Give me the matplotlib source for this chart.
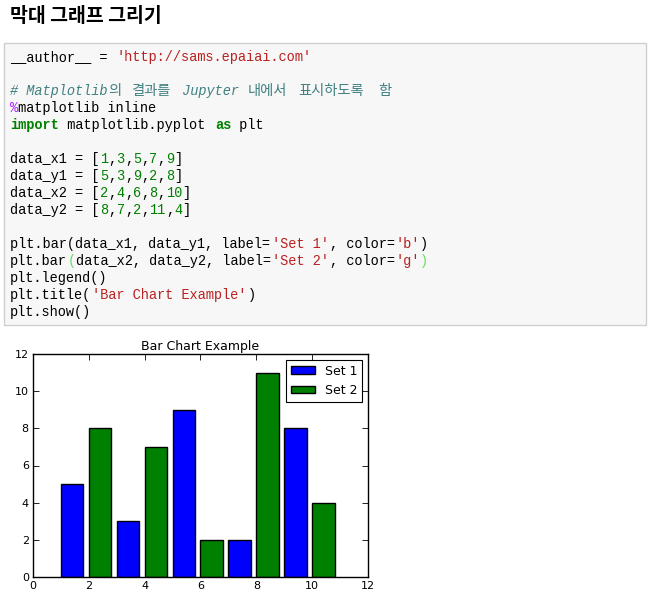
import matplotlib
matplotlib.use('Agg')
import matplotlib.pyplot as plt
import matplotlib.patches as patches

# chart data
data_x1 = [1, 3, 5, 7, 9]
data_y1 = [5, 3, 9, 2, 8]
data_x2 = [2, 4, 6, 8, 10]
data_y2 = [8, 7, 2, 11, 4]
labels = ['Set 1', 'Set 2']
title = 'Bar Chart Example'
heading = '막대 그래프 그리기'

W, H = 656, 605
fig = plt.figure(figsize=(W / 100, H / 100), dpi=100)
fig.patch.set_facecolor('white')


def fx(px):
    return px / W


def fy(py):
    return 1 - py / H


# notebook heading
fig.text(fx(10), fy(16), heading, fontsize=14, fontweight='bold',
         family=['Noto Sans CJK KR', 'DejaVu Sans'], va='center', ha='left')

# code cell box
cell = patches.Rectangle((fx(3.5), fy(325)), fx(642), 282 / H,
                         transform=fig.transFigure, facecolor='#f7f7f7',
                         edgecolor='#cfcfcf', linewidth=1)
fig.patches.append(cell)

K = '#000000'
S = '#ba2121'
N = '#008000'
C = '#408080'
M = '#aa22ff'
G = '#66dd66'

code = [
    [('__author__ = ', K), ("'http://sams.epaiai.com'", S)],
    [],
    [('# Matplotlib의 결과를 Jupyter 내에서 표시하도록 함', C, 'normal', 'italic')],
    [('%', M), ('matplotlib inline', K)],
    [('import', N, 'bold'), (' matplotlib.pyplot ', K), ('as', N, 'bold'), (' plt', K)],
    [],
    [('data_x1 = [', K), ('1', N), (',', K), ('3', N), (',', K), ('5', N), (',', K), ('7', N), (',', K), ('9', N), (']', K)],
    [('data_y1 = [', K), ('5', N), (',', K), ('3', N), (',', K), ('9', N), (',', K), ('2', N), (',', K), ('8', N), (']', K)],
    [('data_x2 = [', K), ('2', N), (',', K), ('4', N), (',', K), ('6', N), (',', K), ('8', N), (',', K), ('10', N), (']', K)],
    [('data_y2 = [', K), ('8', N), (',', K), ('7', N), (',', K), ('2', N), (',', K), ('11', N), (',', K), ('4', N), (']', K)],
    [],
    [('plt.bar(data_x1, data_y1, label=', K), ("'Set 1'", S), (', color=', K), ("'b'", S), (')', K)],
    [('plt.bar', K), ('(', G), ('data_x2, data_y2, label=', K), ("'Set 2'", S), (', color=', K), ("'g'", S), (')', G)],
    [('plt.legend()', K)],
    [('plt.title(', K), ("'Bar Chart Example'", S), (')', K)],
    [('plt.show()', K)],
]

char_w = 8.2
wide_w = 14.3
code_size = char_w / 0.6 * 0.72
wide_size = wide_w * 0.72


def runs(txt):
    # split text into ascii / wide (Korean) runs
    out = []
    for ch in txt:
        wide = ord(ch) > 0x2000
        if out and out[-1][1] == wide:
            out[-1][0] += ch
        else:
            out.append([ch, wide])
    return out


for i, line in enumerate(code):
    y = 57 + 17 * i
    x = 10
    for seg in line:
        txt, color = seg[0], seg[1]
        weight = seg[2] if len(seg) > 2 else 'normal'
        style = seg[3] if len(seg) > 3 else 'normal'
        for part, wide in runs(txt):
            if wide:
                fig.text(fx(x), fy(y), part, color=color, fontsize=wide_size,
                         family='Noto Sans CJK KR', va='center', ha='left')
                x += wide_w * len(part)
            else:
                fig.text(fx(x), fy(y), part, color=color,
                         fontsize=code_size, fontweight=weight, fontstyle=style,
                         family='Liberation Mono', va='center', ha='left')
                x += char_w * len(part)

# chart output
ax = fig.add_axes([fx(33), fy(577), fx(335), 223 / H])
ax.bar(data_x1, data_y1, width=0.8, align='edge', color='b',
       edgecolor='black', linewidth=1, label=labels[0])
ax.bar(data_x2, data_y2, width=0.8, align='edge', color='g',
       edgecolor='black', linewidth=1, label=labels[1])
ax.set_xlim(0, 12)
ax.set_ylim(0, 12)
ax.set_xticks(range(0, 13, 2))
ax.set_yticks(range(0, 13, 2))
ax.tick_params(direction='in', top=True, right=True, length=4,
               width=0.6, labelsize=8, pad=3)
for sp in ax.spines.values():
    sp.set_linewidth(1)
ax.set_title(title, fontsize=9, pad=3)
leg = ax.legend(loc='upper right', fontsize=9, fancybox=False,
                edgecolor='black', framealpha=1, borderaxespad=0.45,
                handlelength=1.9, handleheight=0.55, handletextpad=0.8,
                labelspacing=0.5, borderpad=0.4)
leg.get_frame().set_linewidth(0.8)

fig.savefig('out.png', dpi=100)
